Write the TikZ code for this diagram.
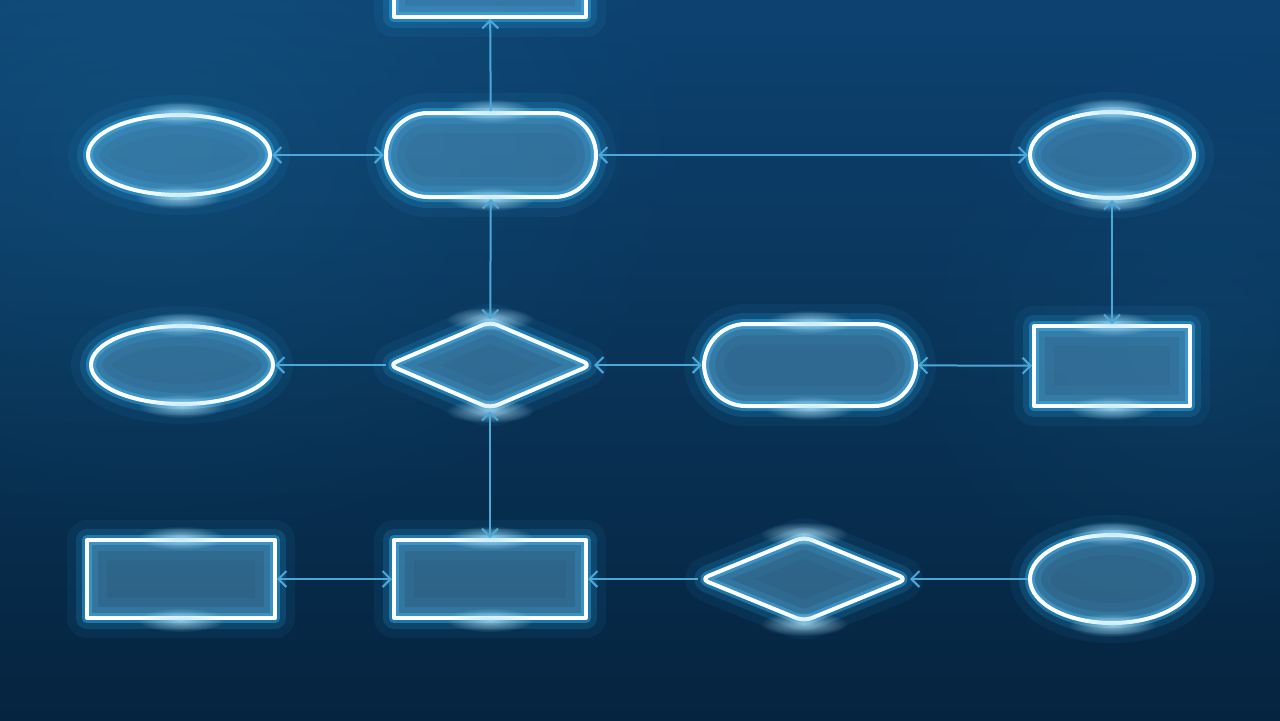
\documentclass[tikz,border=0pt]{standalone}
\usetikzlibrary{shapes.geometric,arrows.meta,fadings}
\definecolor{bgtop}{HTML}{0D4270}
\definecolor{bgbot}{HTML}{05243F}
\definecolor{glowc}{HTML}{30B4F2}
\definecolor{linec}{HTML}{4DA8DA}
\definecolor{fillc}{HTML}{6ABCEA}
\tikzfading[name=glowfade, inner color=transparent!0, outer color=transparent!100]
\tikzset{
  shp/.style={draw=white, line width=2pt, fill=fillc, fill opacity=0.40, inner sep=0pt, outer sep=1pt, line join=round,
    preaction={draw=glowc, fill=none, line width=20pt, draw opacity=0.07, line join=round},
    preaction={draw=glowc, fill=none, line width=11pt, draw opacity=0.16, line join=round},
    preaction={draw=glowc, fill=none, line width=5pt, draw opacity=0.45, line join=round}},
  ell/.style={shp, ellipse},
  rct/.style={shp, rectangle},
  stad/.style={shp, rectangle, rounded corners=21pt},
  dia/.style={shp, diamond, rounded corners=4pt},
  conn/.style={draw=linec, line width=1pt},
  >={Straight Barb[length=4pt,width=8pt]},
}
\begin{document}
\begin{tikzpicture}[x=0.5pt,y=-0.5pt]
\useasboundingbox (0,0) rectangle (1280,720);
\clip (0,0) rectangle (1280,720);
\shade[top color=bgtop, bottom color=bgbot] (0,0) rectangle (1280,720);
\fill[glowc, opacity=0.12, path fading=glowfade] (150,150) ellipse (550 and 400);
\fill[glowc, opacity=0.07, path fading=glowfade] (1200,330) ellipse (300 and 300);
% nodes
\node[rct, minimum width=96pt, minimum height=28pt] (top) at (490,-11) {};
\node[ell, minimum width=91pt, minimum height=40pt] (e1) at (179,155) {};
\node[stad, minimum width=105pt, minimum height=42pt] (s1) at (491,155) {};
\node[ell, minimum width=82pt, minimum height=43pt] (e3) at (1112,155) {};
\node[ell, minimum width=91pt, minimum height=39pt] (e2) at (182,365) {};
\node[dia, minimum width=102pt, minimum height=44pt] (d1) at (490,365) {};
\node[stad, minimum width=106pt, minimum height=41pt] (s2) at (810,365) {};
\node[rct, minimum width=78pt, minimum height=40pt] (r2) at (1112,366) {};
\node[rct, minimum width=94pt, minimum height=39pt] (b1) at (181,579) {};
\node[rct, minimum width=96pt, minimum height=39pt] (b2) at (490,579) {};
\node[dia, minimum width=104pt, minimum height=43pt] (db) at (804,579) {};
\node[ell, minimum width=82pt, minimum height=44pt] (eb) at (1112,579) {};
% highlights
\foreach \n in {e1,s1,e3,e2,d1,s2,r2,b1,b2,db,eb}{
  \fill[glowc!35!white, opacity=0.75, path fading=glowfade] (\n.north) ellipse (22pt and 6pt);
  \fill[glowc!35!white, opacity=0.75, path fading=glowfade] (\n.south) ellipse (22pt and 6pt);
}
% connectors
\draw[conn,->] (s1) -- (top);
\draw[conn,<->] (e1) -- (s1);
\draw[conn,<->] (s1) -- (e3);
\draw[conn,<->] (e3) -- (r2);
\draw[conn,<->] (s1) -- (d1);
\draw[conn,->] (d1) -- (e2);
\draw[conn,<->] (d1) -- (s2);
\draw[conn,<->] (s2) -- (r2);
\draw[conn,<->] (d1) -- (b2);
\draw[conn,<->] (b1) -- (b2);
\draw[conn,->] (eb) -- (db);
\draw[conn,->] (db) -- (b2);
\end{tikzpicture}
\end{document}
